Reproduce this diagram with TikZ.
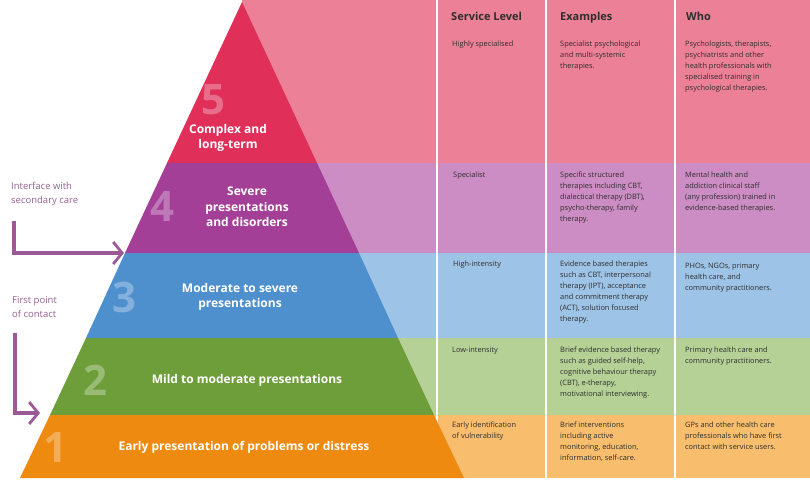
\documentclass[tikz,border=0pt]{standalone}
\usepackage{fontspec}
\setmainfont{Open Sans}
\usetikzlibrary{arrows.meta}
\definecolor{dA}{HTML}{E0305A}\definecolor{lA}{HTML}{EC8096}
\definecolor{dB}{HTML}{A43F98}\definecolor{lB}{HTML}{CC8CC4}
\definecolor{dC}{HTML}{4E8FCE}\definecolor{lC}{HTML}{9DC3E6}
\definecolor{dD}{HTML}{6E9E3A}\definecolor{lD}{HTML}{B5D196}
\definecolor{dE}{HTML}{EE8A10}\definecolor{lE}{HTML}{F8BE6E}
\definecolor{arr}{HTML}{9B5A96}\definecolor{txt}{HTML}{2E2E2E}
\begin{document}
\begin{tikzpicture}[x=1pt,y=-1pt,
 cell/.style={anchor=north west,align=left,inner sep=0pt,text=txt,font=\fontsize{7.4}{11}\selectfont},
 head/.style={anchor=north west,inner sep=0pt,text=txt,font=\fontsize{11}{12}\selectfont\bfseries},
 lab/.style={align=center,text=white,font=\fontsize{12}{15.5}\selectfont\bfseries},
 num/.style={text=white,opacity=0.3,font=\fontsize{42}{42}\selectfont\bfseries},
 side/.style={anchor=north west,align=left,inner sep=0pt,text=arr!85!gray,font=\fontsize{9.5}{14}\selectfont},
 parr/.style={draw=arr,line width=3.5pt,-{Straight Barb[length=9pt,width=22pt,line width=2.8pt]}}]
\useasboundingbox (0,0) rectangle (810,480);
% light bands
\fill[lA] (242,0) rectangle (810,163);
\fill[lB] (242,163) rectangle (810,253);
\fill[lC] (242,253) rectangle (810,338);
\fill[lD] (242,338) rectangle (810,415);
\fill[lE] (242,415) rectangle (810,478);
% column lines
\foreach \x in {437,546,675} \draw[white,line width=1.5pt] (\x,0) -- (\x,480);
% pyramid bands
\fill[dA] (242,2) -- (167,163) -- (317,163) -- cycle;
\fill[dB] (167,163) -- (125,253) -- (359,253) -- (317,163) -- cycle;
\fill[dC] (125,253) -- (86,338) -- (398,338) -- (359,253) -- cycle;
\fill[dD] (86,338) -- (50,415) -- (434,415) -- (398,338) -- cycle;
\fill[dE] (50,415) -- (20,478) -- (464,478) -- (434,415) -- cycle;
% numbers and labels
\node[num] (n5) at (213,100) {5};
\node[num] (n4) at (162,207) {4};
\node[num] (n3) at (124,297) {3};
\node[num] (n2) at (95,380) {2};
\node[num] (n1) at (55,447) {1};
\node[lab] (l5) at (228,138) {Complex and\\long-term};
\node[lab] (l4) at (247,207) {Severe\\presentations\\and disorders};
\node[lab] (l3) at (240,297) {Moderate to severe\\presentations};
\node[lab] (l2) at (247,380) {Mild to moderate presentations};
\node[lab] (l1) at (244,447) {Early presentation of problems or distress};
% headers
\node[head] (h1) at (451,12) {Service Level};
\node[head] (h2) at (560,12) {Examples};
\node[head] (h3) at (686,12) {Who};
% cells
\node[cell] (a5) at (452,41) {Highly specialised};
\node[cell] (b5) at (560,41) {Specialist psychological\\and multi-systemic\\therapies.};
\node[cell] (c5) at (685,41) {Psychologists, therapists,\\psychiatrists and other\\health professionals with\\specialised training in\\psychological therapies.};
\node[cell] (a4) at (453,172) {Specialist};
\node[cell] (b4) at (560,172) {Specific structured\\therapies including CBT,\\dialectical therapy (DBT),\\psycho-therapy, family\\therapy.};
\node[cell] (c4) at (685,172) {Mental health and\\addiction clinical staff\\(any profession) trained in\\evidence-based therapies.};
\node[cell] (a3) at (453,261) {High-intensity};
\node[cell] (b3) at (560,261) {Evidence based therapies\\such as CBT, interpersonal\\therapy (IPT), acceptance\\and commitment therapy\\(ACT), solution focused\\therapy.};
\node[cell] (c3) at (685,263) {PHOs, NGOs, primary\\health care, and\\community practitioners.};
\node[cell] (a2) at (452,347) {Low-intensity};
\node[cell] (b2) at (560,347) {Brief evidence based therapy\\such as guided self-help,\\cognitive behaviour therapy\\(CBT), e-therapy,\\motivational interviewing.};
\node[cell] (c2) at (685,347) {Primary health care and\\community practitioners.};
\node[cell] (a1) at (452,422) {Early identification\\of vulnerability};
\node[cell] (b1) at (560,422) {Brief interventions\\including active\\monitoring, education,\\information, self-care.};
\node[cell] (c1) at (685,422) {GPs and other health care\\professionals who have first\\contact with service users.};
% side labels and arrows
\node[side] (s1) at (11,182) {Interface with\\secondary care};
\node[side] (s2) at (12,296) {First point\\of contact};
\coordinate (p1) at (14,221); \coordinate (q1) at (124,253);
\coordinate (p2) at (15,333); \coordinate (q2) at (40,413);
\draw[parr] (p1) |- (q1);
\draw[parr] (p2) |- (q2);
\end{tikzpicture}
\end{document}
